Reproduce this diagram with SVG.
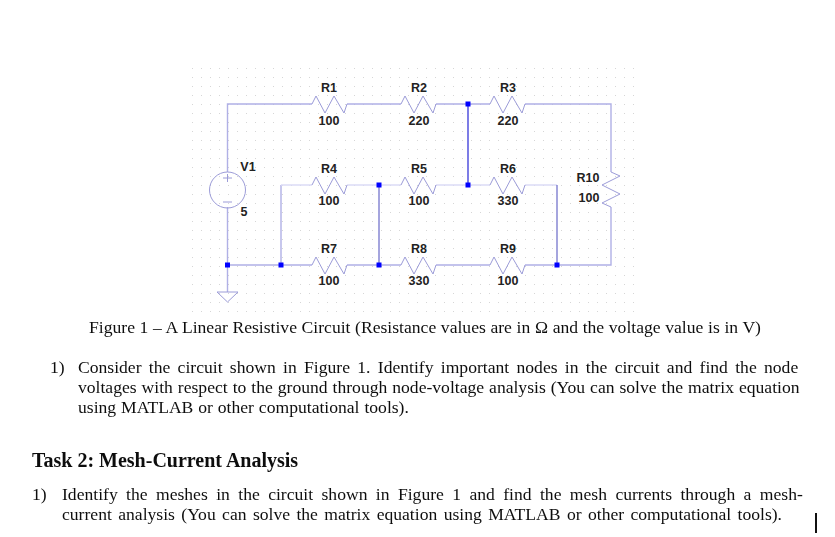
<svg xmlns="http://www.w3.org/2000/svg" width="835" height="537" viewBox="0 0 835 537">
<style>
.w{fill:none;stroke:#b0b0e6;stroke-width:1.4}
.p{fill:none;stroke:#dcdcf6;stroke-width:1.4}
.s{fill:none;stroke:#5c5ce0;stroke-width:1.6}
.v{fill:none;stroke:#6a6ac8;stroke-width:1.2}
.r{fill:none;stroke:#9c9cd8;stroke-width:1}
.l{font:bold 12.500px "Liberation Sans",Arial,sans-serif;fill:#222;text-anchor:middle}
.t{font:17.600px "Liberation Serif","Times New Roman",serif;fill:#111}
.b{font:bold 20px "Liberation Serif","Times New Roman",serif;fill:#111}
</style>
<defs>
<pattern id="g" x="192" y="68" width="9" height="9" patternUnits="userSpaceOnUse"><rect width="1" height="1" fill="#d6d6d6"/></pattern>
<path id="rz" d="M0 0l4-8 9 17 9-17 10 17 3-9" class="r"/>
<rect id="j" x="-2.500" y="-2.500" width="5" height="5" fill="#0000ff"/>
<filter id="soft" x="0" y="0" width="1" height="1"><feGaussianBlur stdDeviation="0.3"/></filter>
</defs>
<rect width="835" height="537" fill="#fff"/>
<rect x="192" y="68" width="450" height="244" fill="url(#g)"/>
<g id="connectors">
<path class="w" d="M227.500 172V104H312M347 104H401M436 104H490M525 104H611V172M611 207V265H525M490 265H436M401 265H347M312 265H227.500V207M227.500 265V292M281 265V185"/>
<path class="p" d="M281 185H312M347 185H401M436 185H490M525 185H557"/>
<path class="s" d="M468 104V185"/>
<path class="v" d="M379 185V265M557 185V265"/>
</g>
<g id="R1"><use href="#rz" x="312" y="104"/><text class="l" x="329" y="92">R1</text><text class="l" x="329" y="125">100</text></g>
<g id="R2"><use href="#rz" x="401" y="104"/><text class="l" x="419" y="92">R2</text><text class="l" x="419" y="125">220</text></g>
<g id="R3"><use href="#rz" x="490" y="104"/><text class="l" x="508" y="92">R3</text><text class="l" x="508" y="125">220</text></g>
<g id="R4"><use href="#rz" x="312" y="185"/><text class="l" x="329" y="173">R4</text><text class="l" x="329" y="205">100</text></g>
<g id="R5"><use href="#rz" x="401" y="185"/><text class="l" x="419" y="173">R5</text><text class="l" x="419" y="205">100</text></g>
<g id="R6"><use href="#rz" x="490" y="185"/><text class="l" x="508" y="173">R6</text><text class="l" x="508" y="205">330</text></g>
<g id="R7"><use href="#rz" x="312" y="265"/><text class="l" x="329" y="253">R7</text><text class="l" x="329" y="285">100</text></g>
<g id="R8"><use href="#rz" x="401" y="265"/><text class="l" x="419" y="253">R8</text><text class="l" x="419" y="285">330</text></g>
<g id="R9"><use href="#rz" x="490" y="265"/><text class="l" x="508" y="253">R9</text><text class="l" x="508" y="285">100</text></g>
<g id="R10"><path class="r" d="M611 172l9 4-18 9 18 9-18 9 9 4"/><text class="l" x="588" y="182">R10</text><text class="l" x="589" y="202">100</text></g>
<g id="V1"><circle class="r" cx="227.500" cy="190" r="18"/><path class="r" d="M223 178h9M227.500 174v8M223 202h9"/><text class="l" x="248" y="171">V1</text><text class="l" x="244" y="216">5</text></g>
<g id="GND"><path class="r" d="M217 292h21l-10.500 10z"/></g>
<g id="junctions"><use href="#j" x="468" y="104"/><use href="#j" x="379" y="185"/><use href="#j" x="468" y="185"/><use href="#j" x="227.500" y="265"/><use href="#j" x="281" y="265"/><use href="#j" x="379" y="265"/><use href="#j" x="557" y="265"/></g>
<g id="text" filter="url(#soft)">
<text class="t" x="89" y="333" word-spacing="0.250">Figure 1 – A Linear Resistive Circuit (Resistance values are in Ω and the voltage value is in V)</text>
<text class="t" x="50" y="373">1)</text>
<text class="t" x="78" y="373" word-spacing="2.900">Consider the circuit shown in Figure 1. Identify important nodes in the circuit and find the node</text>
<text class="t" x="78" y="393" word-spacing="0.570">voltages with respect to the ground through node-voltage analysis (You can solve the matrix equation</text>
<text class="t" x="78" y="413" word-spacing="0.500">using MATLAB or other computational tools).</text>
<text class="b" x="32" y="467">Task 2: Mesh-Current Analysis</text>
<text class="t" x="32" y="500">1)</text>
<text class="t" x="62" y="500" word-spacing="4">Identify the meshes in the circuit shown in Figure 1 and find the mesh currents through a mesh-</text>
<text class="t" x="62" y="520" word-spacing="2">current analysis (You can solve the matrix equation using MATLAB or other computational tools).</text>
</g>
<rect x="815" y="513" width="2" height="20" fill="#111"/>
</svg>
